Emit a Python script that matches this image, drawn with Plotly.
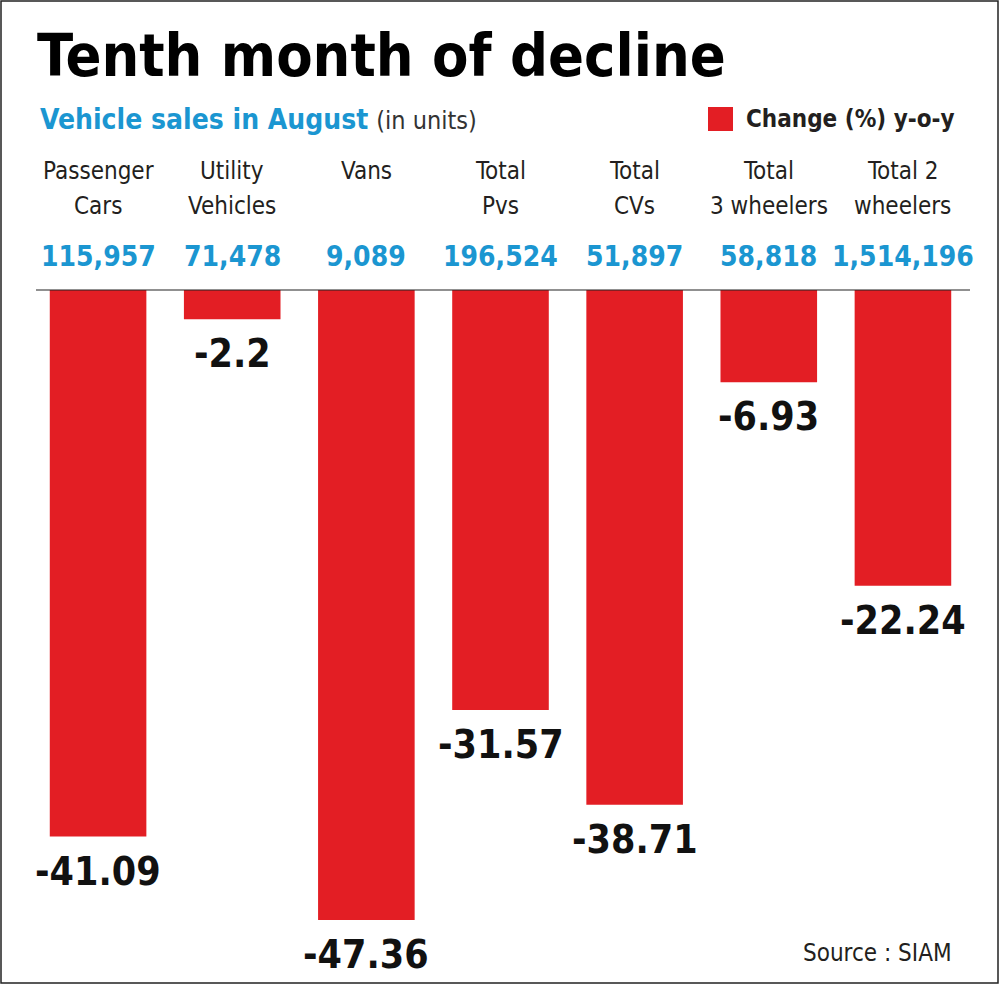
import plotly.graph_objects as go

# data
categories = ["Passenger Cars", "Utility Vehicles", "Vans", "Total Pvs",
              "Total CVs", "Total 3 wheelers", "Total 2 wheelers"]
cat_labels = ["Passenger<br>Cars", "Utility<br>Vehicles", "Vans", "Total<br>Pvs",
              "Total<br>CVs", "Total<br>3 wheelers", "Total 2<br>wheelers"]
units = [115957, 71478, 9089, 196524, 51897, 58818, 1514196]
change = [-41.09, -2.2, -47.36, -31.57, -38.71, -6.93, -22.24]

RED = "#e31e24"
BLUE = "#1b96d1"
INK = "#231f20"
NARROW = "DejaVu Sans Condensed, DejaVu Sans, sans-serif"

W, H = 1000, 986
ML, MR, MT, MB = 31, 30, 290, 26
PW, PH = W - ML - MR, H - MT - MB


def px(x):
    return (x - ML) / PW


def py(y):
    return (H - MB - y) / PH


fig = go.Figure(go.Bar(
    x=categories,
    y=change,
    marker=dict(color=RED, line=dict(width=0)),
    cliponaxis=False,
    hoverinfo="skip",
))

annotations = []
# title + subtitle
annotations.append(dict(text="<b>Tenth month of decline</b>", x=px(35), y=py(55),
                        xanchor="left", yanchor="middle",
                        font=dict(family=NARROW, size=59, color="#000000")))
annotations.append(dict(text="<b>Vehicle sales in August</b> <span style='color:#333333;font-size:25px'>(in units)</span>",
                        x=px(38), y=py(120), xanchor="left", yanchor="middle",
                        font=dict(family=NARROW, size=28, color=BLUE)))
annotations.append(dict(text="<b>Change (%) y-o-y</b>", x=px(744), y=py(119),
                        xanchor="left", yanchor="middle",
                        font=dict(family=NARROW, size=24, color=INK)))
annotations.append(dict(text="Source : SIAM", x=px(954), y=py(953),
                        xanchor="right", yanchor="middle",
                        font=dict(family=NARROW, size=24, color=INK)))

for cat, lab, u, v in zip(categories, cat_labels, units, change):
    for i, line in enumerate(lab.split("<br>")):
        annotations.append(dict(text=line, x=cat, xref="x", y=py(171 + 35 * i), yref="paper",
                                xanchor="center", yanchor="middle",
                                font=dict(family=NARROW, size=24, color=INK)))
    annotations.append(dict(text=f"<b>{u:,}</b>", x=cat, xref="x", y=py(256), yref="paper",
                            xanchor="center", yanchor="middle",
                            font=dict(family=NARROW, size=28, color=BLUE)))
    # value label under each bar
    annotations.append(dict(text=f"<b>{v:g}</b>", x=cat, xref="x", y=v, yref="y",
                            xanchor="center", yanchor="top", yshift=-10,
                            font=dict(family=NARROW, size=39, color="#111111")))

for a in annotations:
    a.setdefault("xref", "paper")
    a.setdefault("yref", "paper")
    a["showarrow"] = False

shapes = [
    # legend swatch
    dict(type="rect", xref="paper", yref="paper", x0=px(708), x1=px(733),
         y0=py(131), y1=py(107), fillcolor=RED, line=dict(width=0)),
    # baseline
    dict(type="line", xref="paper", yref="paper", x0=px(36), x1=px(970),
         y0=py(290), y1=py(290), line=dict(color="#222222", width=1.2)),
    # frame
    dict(type="rect", xref="paper", yref="paper", x0=px(1), x1=px(998),
         y0=py(983), y1=py(1), line=dict(color="#222222", width=1.5)),
]

fig.update_layout(
    width=W, height=H,
    margin=dict(l=ML, r=MR, t=MT, b=MB),
    paper_bgcolor="white", plot_bgcolor="white",
    bargap=0.28,
    showlegend=False,
    xaxis=dict(visible=False, range=[-0.5, len(categories) - 0.5]),
    yaxis=dict(visible=False, range=[-(H - MB - MT) / 13.3, 0]),
    annotations=annotations,
    shapes=shapes,
)

fig.write_html("out.html", config={"displayModeBar": False},
               post_script="document.body.style.margin='0px';")
